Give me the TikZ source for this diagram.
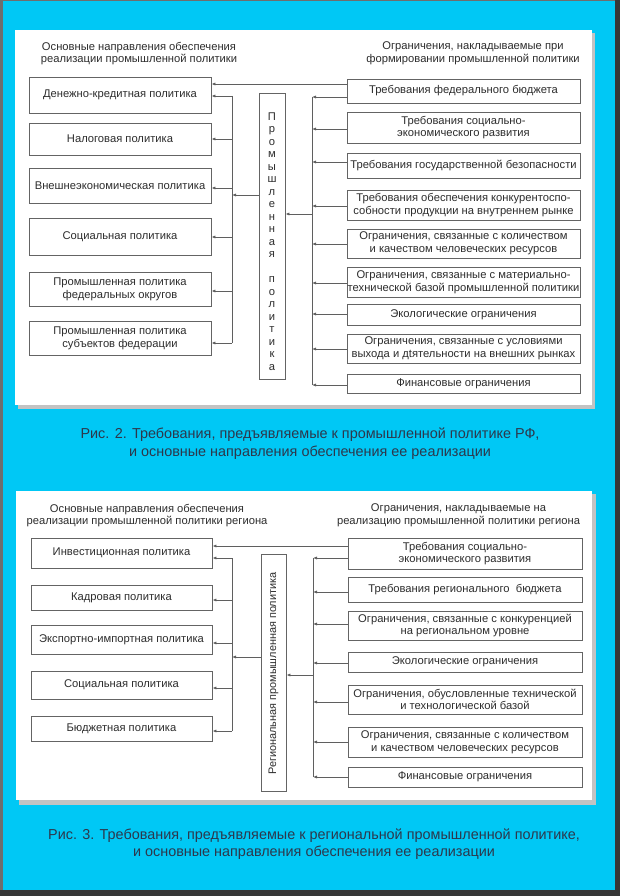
\documentclass[tikz,border=0pt]{standalone}
\usepackage{fontspec}
\setmainfont{Liberation Sans}
\usetikzlibrary{arrows.meta}
\definecolor{bgcyan}{RGB}{0,200,245}
\definecolor{edgedark}{RGB}{55,55,55}
\definecolor{edgegray}{RGB}{110,110,110}
\definecolor{boxline}{RGB}{100,100,100}
\definecolor{conn}{RGB}{95,95,95}
\definecolor{txt}{RGB}{45,45,45}
\definecolor{captxt}{RGB}{45,55,75}
\definecolor{shadowgray}{RGB}{195,195,195}
\begin{document}
\begin{tikzpicture}[x=1pt,y=-1pt,
  box/.style={draw=boxline, line width=0.9pt, fill=white, text=txt, align=center, inner sep=0pt,
    font=\fontsize{11.2}{12.7}\selectfont},
  hdr/.style={text=txt, align=center, inner sep=0pt, font=\fontsize{11.2}{12.7}\selectfont},
  captext/.style={text=captxt, align=center, inner sep=0pt, font=\fontsize{14.4}{17.5}\selectfont},
  arr/.style={draw=conn, line width=0.8pt, -{Latex[length=4pt,width=3.2pt]}},
  ln/.style={draw=conn, line width=0.8pt},
]
\useasboundingbox (0,0) rectangle (620,896);
% background
\fill[bgcyan] (0,0) rectangle (620,896);
\fill[edgedark] (614.5,0) rectangle (620,896);
\fill[edgedark] (0,889.5) rectangle (620,896);
\fill[edgegray] (0,0) rectangle (2.5,889.5);
\fill[edgegray] (0,0) rectangle (614.5,1.2);
% panels
\fill[shadowgray] (18,33) rectangle (595,409);
\fill[white] (15,30) rectangle (592,405);
\fill[shadowgray] (19,494) rectangle (596,805);
\fill[white] (16,491) rectangle (592,800);

%%%%%%%%%%%% Panel 1
\node[hdr] (h1l) at (139,53.5) {Основные направления обеспечения\\реализации промышленной политики};
\node[hdr] (h1r) at (473,53.5) {Ограничения, накладываемые при\\формировании промышленной политики};

\node[box, minimum width=182, minimum height=36] (L1) at (120,95) {Денежно-кредитная политика};
\node[box, minimum width=182, minimum height=32] (L2) at (120,139) {Налоговая политика};
\node[box, minimum width=182, minimum height=35] (L3) at (120,185.5) {Внешнеэкономическая политика};
\node[box, minimum width=182, minimum height=37] (L4) at (120,236.5) {Социальная политика};
\node[box, minimum width=182, minimum height=34] (L5) at (120,289) {Промышленная политика\\федеральных округов};
\node[box, minimum width=182, minimum height=34] (L6) at (120,338) {Промышленная политика\\субъектов федерации};

\node[box, minimum width=26, minimum height=286] (V1) at (272,236) {};
\node[text=txt, align=center, inner sep=0pt, font=\fontsize{11.2}{12.5}\selectfont] (V1t) at (272,241.5)
  {П\\р\\о\\м\\ы\\ш\\л\\е\\н\\н\\а\\я\\[12.5pt]п\\о\\л\\и\\т\\и\\к\\а};

\node[box, minimum width=233, minimum height=24] (R1) at (463.5,91) {Требования федерального бюджета};
\node[box, minimum width=233, minimum height=31] (R2) at (463.5,127.5) {Требования социально-\\экономического развития};
\node[box, minimum width=233, minimum height=25] (R3) at (463.5,165.5) {Требования государственной безопасности};
\node[box, minimum width=233, minimum height=30] (R4) at (463.5,205) {Требования обеспечения конкурентоспо-\\собности продукции на внутреннем рынке};
\node[box, minimum width=233, minimum height=29] (R5) at (463.5,243.5) {Ограничения, связанные с количеством\\и качеством человеческих ресурсов};
\node[box, minimum width=233, minimum height=30] (R6) at (463.5,282) {Ограничения, связанные с материально-\\технической базой промышленной политики};
\node[box, minimum width=233, minimum height=21] (R7) at (463.5,314.5) {Экологические ограничения};
\node[box, minimum width=233, minimum height=29] (R8) at (463.5,348.5) {Ограничения, связанные с условиями\\выхода и дtятельности на внешних рынках};
\node[box, minimum width=233, minimum height=19] (R9) at (463.5,383.5) {Финансовые ограничения};

\coordinate (rb1t) at (312,97);
\coordinate (rb1b) at (312,385);
\coordinate (lb1t) at (232,96);
\coordinate (lb1b) at (232,343);

\draw[arr] (R1.west |- 0,84) -- (L1.east |- 0,84);
\draw[ln] (rb1t) -- (rb1b);
\draw[arr] (R1.west |- 0,97) -- (rb1t);
\draw[arr] (R2.west |- 0,129) -- (rb1t |- 0,129);
\draw[arr] (R3.west |- 0,162) -- (rb1t |- 0,162);
\draw[arr] (R4.west |- 0,206) -- (rb1t |- 0,206);
\draw[arr] (R5.west |- 0,244) -- (rb1t |- 0,244);
\draw[arr] (R6.west |- 0,283) -- (rb1t |- 0,283);
\draw[arr] (R7.west |- 0,314) -- (rb1t |- 0,314);
\draw[arr] (R8.west |- 0,349) -- (rb1t |- 0,349);
\draw[arr] (R9.west |- 0,385) -- (rb1b);
\draw[arr] (rb1t |- 0,214) -- (V1.east |- 0,214);
\draw[arr] (V1.west |- 0,195) -- (lb1t |- 0,195);
\draw[ln] (lb1t) -- (lb1b);
\draw[arr] (lb1t) -- (L1.east |- 0,96);
\draw[arr] (lb1t |- 0,139) -- (L2.east |- 0,139);
\draw[arr] (lb1t |- 0,188) -- (L3.east |- 0,188);
\draw[arr] (lb1t |- 0,237) -- (L4.east |- 0,237);
\draw[arr] (lb1t |- 0,291) -- (L5.east |- 0,291);
\draw[arr] (lb1b) -- (L6.east |- 0,343);

\node[captext] (c1) at (310,443.5) {Рис. 2. Требования, предъявляемые к промышленной политике РФ,\\и основные направления обеспечения ее реализации};

%%%%%%%%%%%% Panel 2
\node[hdr] (h2l) at (147,515.5) {Основные направления обеспечения\\реализации промышленной политики региона};
\node[hdr] (h2r) at (458.5,515.5) {Ограничения, накладываемые на\\реализацию промышленной политики региона};

\node[box, minimum width=181, minimum height=30] (M1) at (121.5,553) {Инвестиционная политика};
\node[box, minimum width=181, minimum height=25] (M2) at (121.5,597.5) {Кадровая политика};
\node[box, minimum width=181, minimum height=29] (M3) at (121.5,639.5) {Экспортно-импортная политика};
\node[box, minimum width=181, minimum height=28] (M4) at (121.5,685) {Социальная политика};
\node[box, minimum width=181, minimum height=25] (M5) at (121.5,728.5) {Бюджетная политика};

\node[box, minimum width=25, minimum height=237] (V2) at (273.5,672.5) {};
\node[text=txt, inner sep=0pt, rotate=90, font=\fontsize{10.9}{12}\selectfont] (V2t) at (273.5,673.5) {Региональная промышленная политика};

\node[box, minimum width=234, minimum height=31] (S1) at (465,553.5) {Требования социально-\\экономического развития};
\node[box, minimum width=234, minimum height=25] (S2) at (465,589.5) {Требования регионального\ \ бюджета};
\node[box, minimum width=234, minimum height=29] (S3) at (465,625.5) {Ограничения, связанные с конкуренцией\\на региональном уровне};
\node[box, minimum width=234, minimum height=20] (S4) at (465,662) {Экологические ограничения};
\node[box, minimum width=234, minimum height=29] (S5) at (465,699.5) {Ограничения, обусловленные технической\\и технологической базой};
\node[box, minimum width=234, minimum height=30] (S6) at (465,742) {Ограничения, связанные с количеством\\и качеством человеческих ресурсов};
\node[box, minimum width=234, minimum height=20] (S7) at (465,777) {Финансовые ограничения};

\coordinate (rb2t) at (313,558);
\coordinate (rb2b) at (313,777);
\coordinate (lb2t) at (232,558);
\coordinate (lb2b) at (232,731);

\draw[arr] (S1.west |- 0,546) -- (M1.east |- 0,546);
\draw[ln] (rb2t) -- (rb2b);
\draw[arr] (S1.west |- 0,558) -- (rb2t);
\draw[arr] (S2.west |- 0,592) -- (rb2t |- 0,592);
\draw[arr] (S3.west |- 0,624) -- (rb2t |- 0,624);
\draw[arr] (S4.west |- 0,663) -- (rb2t |- 0,663);
\draw[arr] (S5.west |- 0,702) -- (rb2t |- 0,702);
\draw[arr] (S6.west |- 0,742) -- (rb2t |- 0,742);
\draw[arr] (S7.west |- 0,777) -- (rb2b);
\draw[arr] (rb2t |- 0,675) -- (V2.east |- 0,675);
\draw[arr] (V2.west |- 0,657) -- (lb2t |- 0,657);
\draw[ln] (lb2t) -- (lb2b);
\draw[arr] (lb2t) -- (M1.east |- 0,558);
\draw[arr] (lb2t |- 0,600) -- (M2.east |- 0,600);
\draw[arr] (lb2t |- 0,643) -- (M3.east |- 0,643);
\draw[arr] (lb2t |- 0,688) -- (M4.east |- 0,688);
\draw[arr] (lb2b) -- (M5.east |- 0,731);

\node[captext] (c2) at (314,844) {Рис. 3. Требования, предъявляемые к региональной промышленной политике,\\и основные направления обеспечения ее реализации};
\end{tikzpicture}
\end{document}
